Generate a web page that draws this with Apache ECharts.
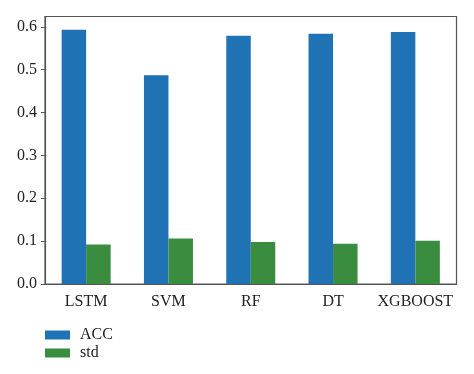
<!DOCTYPE html>
<html><head><meta charset="utf-8">
<script src="https://cdn.jsdelivr.net/npm/echarts@6/dist/echarts.min.js"></script>
<style>html,body{margin:0;padding:0;background:#fff}#c{width:474px;height:374px}</style>
</head><body><div id="c"></div>
<script>
const categories = ['LSTM', 'SVM', 'RF', 'DT', 'XGBOOST'];
const accValues = [0.593, 0.487, 0.579, 0.584, 0.588];
const stdValues = [0.092, 0.106, 0.098, 0.094, 0.101];
const yTicks = [0.0, 0.1, 0.2, 0.3, 0.4, 0.5, 0.6];

const font = 'Liberation Serif, Times New Roman, serif';
const chart = echarts.init(document.getElementById('c'));
chart.setOption({
  animation: false,
  backgroundColor: '#fff',
  grid: { left: 45, top: 16.5, right: 17.5, bottom: 90, show: true, borderColor: '#555', borderWidth: 1.2, backgroundColor: 'transparent' },
  legend: {
    orient: 'vertical', left: 40, top: 322, itemWidth: 25, itemHeight: 9, itemGap: 2,
    icon: 'rect',
    textStyle: { fontFamily: font, fontSize: 16, color: '#222', padding: [0, 0, 0, 5] },
    data: ['ACC', 'std']
  },
  xAxis: {
    type: 'category', data: categories,
    axisLine: { lineStyle: { color: '#555', width: 1.2 } },
    axisTick: { alignWithLabel: true, length: 4, lineStyle: { color: '#555' } },
    axisLabel: { interval: 0, fontFamily: font, fontSize: 16, color: '#222', margin: 10 }
  },
  yAxis: {
    type: 'value', min: 0, max: 0.624, interval: 0.1,
    splitLine: { show: false },
    axisLine: { show: true, lineStyle: { color: '#555', width: 1.2 } },
    axisTick: { show: true, length: 4, lineStyle: { color: '#555' }, customValues: yTicks },
    axisLabel: { fontFamily: font, fontSize: 16, color: '#222', margin: 8, customValues: yTicks,
      formatter: v => v.toFixed(1) }
  },
  series: [
    { name: 'ACC', type: 'bar', data: accValues, barWidth: 24.5, barGap: '0%', itemStyle: { color: '#1f73b4' } },
    { name: 'std', type: 'bar', data: stdValues, barWidth: 24.5, barGap: '0%', itemStyle: { color: '#3a8d3e' } }
  ]
});
</script></body></html>
